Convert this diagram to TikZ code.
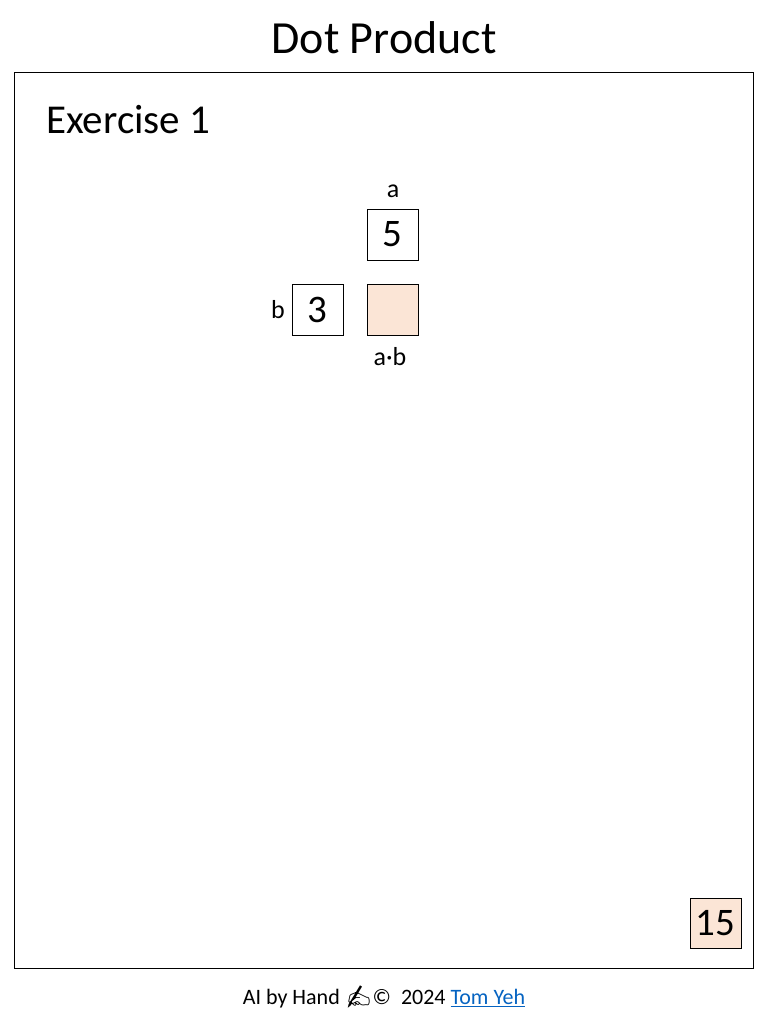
\documentclass[tikz,border=0pt]{standalone}
\usepackage{fontspec}
\setmainfont{Carlito}
\newfontfamily\emojifont{Noto Emoji}
\usetikzlibrary{positioning}
\definecolor{peach}{HTML}{FBE5D6}
\definecolor{linkblue}{HTML}{0563C1}
\tikzset{
  cell/.style={draw=black, line width=0.9pt, minimum width=51pt, minimum height=51pt, inner sep=0pt, font=\fontsize{39}{39}\selectfont},
  result/.style={cell, fill=peach},
  lbl/.style={inner sep=0pt, font=\fontsize{26}{26}\selectfont},
}
\begin{document}
\begin{tikzpicture}[x=1pt,y=-1pt]
\useasboundingbox (0,0) rectangle (768,1024);
\node[inner sep=0pt, font=\fontsize{46}{46}\selectfont] (title) at (384,38) {Dot Product};
\draw[line width=0.9pt] (14,72) rectangle (753,968);
\node[anchor=west, inner sep=0pt, font=\fontsize{41}{41}\selectfont] (ex) at (46,120) {Exercise 1};
\node[cell] (a) at (392.5,234.5) {5};
\node[cell] (b) at (317.5,309.5) {3};
\node[result] (ab) at (392.5,309.5) {};
\node[lbl] (la) at (393,191) {a};
\node[lbl] (lb) at (278,310) {b};
\node[lbl] (lab) at (390,357) {a·b};
\node[result, minimum height=50pt, font=\fontsize{39}{39}\selectfont] (res) at (715.5,923) {15};
\node[inner sep=0pt, font=\fontsize{22}{22}\selectfont] (foot) at (384,997) {AI by Hand {\emojifont ✍}©\ \ 2024 \textcolor{linkblue}{\underline{Tom Yeh}}};
\end{tikzpicture}
\end{document}
